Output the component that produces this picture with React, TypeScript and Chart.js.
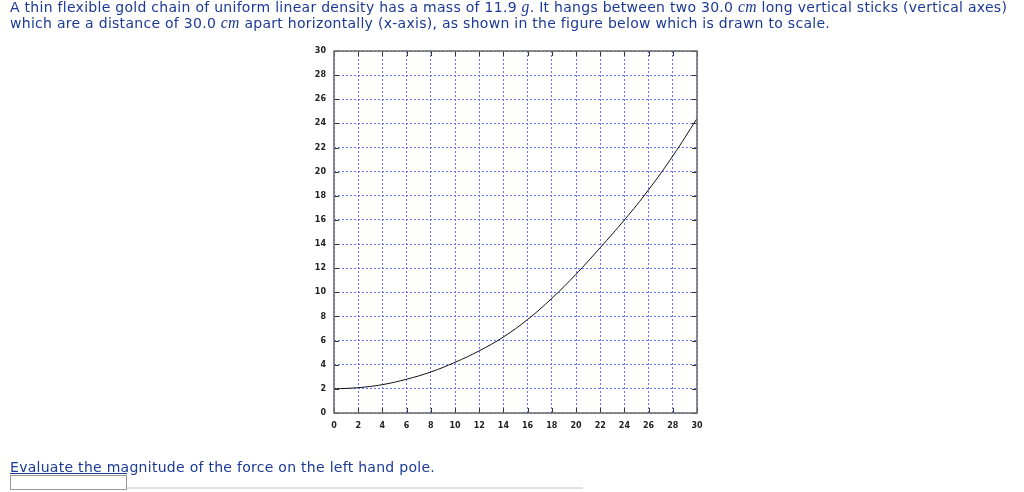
import React, { useEffect, useRef } from "react";
import { Chart, registerables } from "chart.js";

Chart.register(...registerables);

const xValues = [0, 2, 4, 6, 8, 10, 12, 14, 16, 18, 20, 22, 24, 26, 28, 30];
const yValues = [2.0, 2.1, 2.35, 2.8, 3.4, 4.2, 5.15, 6.3, 7.75, 9.5, 11.5, 13.7, 16.0, 18.5, 21.3, 24.4];
const axisMin = 0;
const axisMax = 30;
const axisStep = 2;

const GRID_BLUE = "#6473ff";
const TEXT_BLUE = "#1b3a96";

const framePlugin = {
  id: "frameTicks",
  afterDatasetsDraw(chart: any) {
    const { ctx, chartArea, scales } = chart;
    const { left, right, top, bottom } = chartArea;
    const xs = scales.x;
    const ys = scales.y;
    ctx.save();
    ctx.strokeStyle = "#333";
    ctx.lineWidth = 1;
    const len = 5;
    ctx.beginPath();
    xs.ticks.forEach((t: any) => {
      const px = Math.round(xs.getPixelForValue(t.value)) + 0.5;
      ctx.moveTo(px, bottom);
      ctx.lineTo(px, bottom - len);
      ctx.moveTo(px, top);
      ctx.lineTo(px, top + len);
    });
    ys.ticks.forEach((t: any) => {
      const py = Math.round(ys.getPixelForValue(t.value)) + 0.5;
      ctx.moveTo(left, py);
      ctx.lineTo(left + len, py);
      ctx.moveTo(right, py);
      ctx.lineTo(right - len, py);
    });
    ctx.stroke();
    ctx.strokeStyle = "#707070";
    ctx.lineWidth = 1.6;
    ctx.strokeRect(left, top, right - left, bottom - top);
    ctx.restore();
  },
};

function ChainChart() {
  const ref = useRef<HTMLCanvasElement>(null);
  useEffect(() => {
    if (!ref.current) return;
    const tickFont = { family: "'DejaVu Sans', sans-serif", size: 8, weight: "bold" as const };
    const chart = new Chart(ref.current, {
      type: "line",
      data: {
        datasets: [
          {
            data: xValues.map((x, i) => ({ x, y: yValues[i] })),
            borderColor: "#111",
            borderWidth: 1,
            pointRadius: 0,
            tension: 0.4,
            fill: false,
          },
        ],
      },
      options: {
        animation: false,
        responsive: false,
        devicePixelRatio: 1,
        layout: { padding: { left: 300, top: 51, right: 327, bottom: 59 } },
        plugins: { legend: { display: false }, tooltip: { enabled: false } },
        scales: {
          x: {
            type: "linear",
            min: axisMin,
            max: axisMax,
            ticks: { stepSize: axisStep, color: "#222", font: tickFont, padding: 8, maxRotation: 0 },
            grid: { color: GRID_BLUE, lineWidth: 1, drawTicks: false },
            border: { display: false, dash: [2, 2] },
            afterFit: (s: any) => {
              s.height = 20;
            },
          },
          y: {
            type: "linear",
            min: axisMin,
            max: axisMax,
            ticks: { stepSize: axisStep, color: "#222", font: tickFont, padding: 8 },
            grid: { color: GRID_BLUE, lineWidth: 1, drawTicks: false },
            border: { display: false, dash: [2, 2] },
            afterFit: (s: any) => {
              s.width = 34;
            },
          },
        },
      },
      plugins: [framePlugin],
    });
    return () => chart.destroy();
  }, []);
  return (
    <canvas
      ref={ref}
      width={1024}
      height={492}
      style={{ position: "absolute", left: 0, top: 0, width: 1024, height: 492 }}
    />
  );
}

const mathStyle: React.CSSProperties = {
  fontFamily: "'Liberation Serif', 'DejaVu Serif', serif",
  fontStyle: "italic",
  fontSize: "1.12em",
};

export default function App() {
  const textBase: React.CSSProperties = {
    position: "absolute",
    left: 10,
    whiteSpace: "nowrap",
    fontFamily: "'DejaVu Sans', Verdana, sans-serif",
    fontSize: 14,
    letterSpacing: "0.28px",
    lineHeight: "16px",
    color: TEXT_BLUE,
  };
  return (
    <div style={{ position: "absolute", left: 0, top: 0, width: 1024, height: 492, overflow: "hidden", background: "#fff" }}>
      <ChainChart />
      <div style={{ ...textBase, top: -1 }}>
        A thin flexible gold chain of uniform linear density has a mass of 11.9 <span style={mathStyle}>g</span>. It hangs between two 30.0 <span style={mathStyle}>cm</span> long vertical sticks (vertical axes)
      </div>
      <div style={{ ...textBase, top: 15 }}>
        which are a distance of 30.0 <span style={mathStyle}>cm</span> apart horizontally (x-axis), as shown in the figure below which is drawn to scale.
      </div>
      <div style={{ ...textBase, top: 459 }}>Evaluate the magnitude of the force on the left hand pole.</div>
      <div style={{ position: "absolute", left: 10, top: 473, width: 117, height: 1, background: TEXT_BLUE }} />
      <div style={{ position: "absolute", left: 127, top: 487, width: 456, height: 2, background: "#e2e2e2" }} />
      <div style={{ position: "absolute", left: 10, top: 475, width: 115, height: 13, border: "1px solid #9a9a9a", background: "#fff" }} />
    </div>
  );
}
